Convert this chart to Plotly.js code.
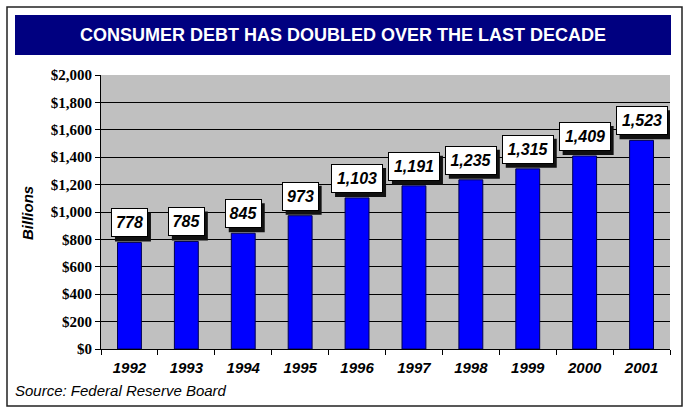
<!DOCTYPE html>
<html>
<head>
<meta charset="utf-8">
<script src="https://cdn.plot.ly/plotly-3.0.1.min.js"></script>
<style>
  body { margin: 0; background: #fff; }
  #chart { width: 692px; height: 416px; }
</style>
</head>
<body>
<div id="chart"></div>
<script>
var years = ['1992', '1993', '1994', '1995', '1996', '1997', '1998', '1999', '2000', '2001'];
var debt = [778, 785, 845, 973, 1103, 1191, 1235, 1315, 1409, 1523];
var labels = ['778', '785', '845', '973', '1,103', '1,191', '1,235', '1,315', '1,409', '1,523'];
var yTicks = [0, 200, 400, 600, 800, 1000, 1200, 1400, 1600, 1800, 2000];
var yTickText = ['$0', '$200', '$400', '$600', '$800', '$1,000', '$1,200', '$1,400', '$1,600', '$1,800', '$2,000'];

// plot area in pixels: left 101, right 670, top 75, bottom 349
var L = 101, R = 670, T = 75, B = 349;
function px(x) { return (x - L) / (R - L); }
function py(y) { return (B - y) / (B - T); }

var sans = 'Liberation Sans, Arial, sans-serif';
var notes = [];
var shapes = [
  { type: 'rect', xref: 'paper', yref: 'paper', layer: 'below',
    x0: px(7), x1: px(682), y0: py(7), y1: py(406),
    line: { color: '#222', width: 1.5 }, fillcolor: 'rgba(0,0,0,0)' },
  { type: 'rect', xref: 'paper', yref: 'paper',
    x0: px(15), x1: px(671), y0: py(15), y1: py(55),
    line: { width: 0 }, fillcolor: '#000080' }
];

var boxH = 27, gap = 5;
for (let i = 0; i < years.length; i++) {
  var w = labels[i].length > 3 ? 50 : 35;
  // drop shadow behind the label box
  shapes.push({
    type: 'rect', xref: 'x', yref: 'y',
    xsizemode: 'pixel', ysizemode: 'pixel',
    xanchor: i, yanchor: debt[i],
    x0: -w / 2 + 3, x1: w / 2 + 4, y0: gap - 4, y1: gap - 4 + boxH + 2,
    line: { width: 0 }, fillcolor: '#111'
  });
  // year strings look numeric, so annotations use the category index
  notes.push({
    x: i, y: debt[i], xref: 'x', yref: 'y',
    text: '<b><i>' + labels[i] + '</i></b>',
    showarrow: false, yanchor: 'bottom',
    yshift: gap, width: w, height: boxH,
    bgcolor: '#fff', bordercolor: '#000', borderwidth: 1, borderpad: 0,
    font: { family: sans, size: 16, color: '#000' }
  });
}

notes.push({
  xref: 'paper', yref: 'paper', x: px(343), y: py(35),
  text: '<b>CONSUMER DEBT HAS DOUBLED OVER THE LAST DECADE</b>',
  showarrow: false, xanchor: 'center', yanchor: 'middle',
  font: { family: sans, size: 18, color: '#fff' }
});
notes.push({
  xref: 'paper', yref: 'paper', x: px(28), y: py(213),
  text: '<b><i>Billions</i></b>', textangle: -90,
  showarrow: false, xanchor: 'center', yanchor: 'middle',
  font: { family: sans, size: 15, color: '#000' }
});
notes.push({
  xref: 'paper', yref: 'paper', x: px(13), y: py(390),
  text: '<i>Source: Federal Reserve Board</i>',
  showarrow: false, xanchor: 'left', yanchor: 'middle',
  font: { family: sans, size: 15, color: '#000' }
});

var trace = {
  x: years,
  y: debt,
  type: 'bar',
  width: 0.42,
  marker: { color: '#0000FF', line: { color: '#000050', width: 1 } },
  hoverinfo: 'none'
};

var layout = {
  width: 692, height: 416,
  margin: { l: L, r: 692 - R, t: T, b: 416 - B },
  paper_bgcolor: '#fff',
  plot_bgcolor: '#C0C0C0',
  showlegend: false,
  xaxis: {
    type: 'category',
    range: [-0.5, years.length - 0.5],
    showline: true, linecolor: '#000', linewidth: 1,
    ticks: 'outside', tickson: 'boundaries', ticklen: 5, tickcolor: '#000',
    ticklabelstandoff: 5,
    tickfont: { family: sans, size: 15, color: '#000', weight: 'bold', style: 'italic' },
    showgrid: false
  },
  yaxis: {
    range: [0, 2000],
    tickvals: yTicks,
    ticktext: yTickText,
    showline: true, linecolor: '#000', linewidth: 1,
    ticks: 'outside', ticklen: 5, tickcolor: '#000',
    gridcolor: '#000', gridwidth: 1,
    zeroline: false,
    tickfont: { family: 'Liberation Serif, serif', size: 15, color: '#000', weight: 'bold' }
  },
  annotations: notes,
  shapes: shapes
};

Plotly.newPlot('chart', [trace], layout, { staticPlot: true });
</script>
</body>
</html>
